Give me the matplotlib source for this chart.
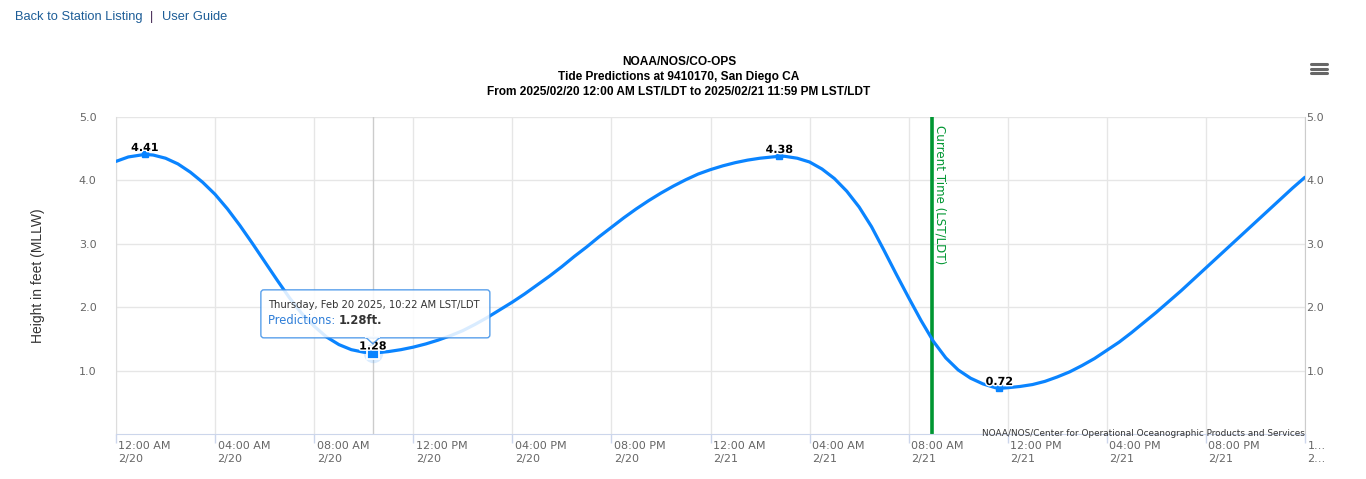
import matplotlib
matplotlib.use("Agg")
import matplotlib.pyplot as plt
import matplotlib.patheffects as pe
import matplotlib.transforms as mtransforms
from matplotlib.patches import FancyBboxPatch, Polygon
from matplotlib.lines import Line2D

# tide predictions, hours since 2025/02/20 00:00, feet above MLLW
hours = [0, 0.5, 1, 1.17, 1.5, 2, 2.5, 3, 3.5, 4, 4.5, 5, 5.5, 6, 6.5, 7, 7.5, 8, 8.5, 9, 9.5,
         10, 10.37, 10.5, 11, 11.5, 12, 12.5, 13, 13.5, 14, 14.5, 15, 15.5, 16, 16.5, 17,
         17.5, 18, 18.5, 19, 19.5, 20, 20.5, 21, 21.5, 22, 22.5, 23, 23.5, 24, 24.5, 25,
         25.5, 26, 26.5, 26.78, 27, 27.5, 28, 28.5, 29, 29.5, 30, 30.5, 31, 31.5, 32, 32.5,
         33, 33.5, 34, 34.5, 35, 35.5, 35.66, 36, 36.5, 37, 37.5, 38, 38.5, 39, 39.5, 40,
         40.5, 41, 41.5, 42, 42.5, 43, 43.5, 44, 44.5, 45, 45.5, 46, 46.5, 47, 47.5, 48]
heights = [4.30, 4.37, 4.40, 4.41, 4.40, 4.35, 4.26, 4.13, 3.97, 3.78, 3.55, 3.29, 3.01,
           2.72, 2.43, 2.15, 1.90, 1.70, 1.53, 1.41, 1.33, 1.29, 1.28, 1.28, 1.30, 1.33,
           1.37, 1.42, 1.48, 1.55, 1.63, 1.73, 1.84, 1.96, 2.08, 2.21, 2.35, 2.49, 2.64,
           2.80, 2.95, 3.11, 3.26, 3.41, 3.55, 3.68, 3.80, 3.91, 4.01, 4.10, 4.17, 4.23,
           4.28, 4.32, 4.35, 4.37, 4.38, 4.38, 4.35, 4.29, 4.18, 4.03, 3.83, 3.58, 3.27,
           2.90, 2.52, 2.15, 1.79, 1.46, 1.20, 1.01, 0.88, 0.79, 0.73, 0.72, 0.73, 0.75,
           0.78, 0.83, 0.90, 0.98, 1.08, 1.19, 1.32, 1.45, 1.60, 1.76, 1.92, 2.09, 2.26,
           2.44, 2.62, 2.80, 2.98, 3.16, 3.34, 3.52, 3.70, 3.88, 4.05]

# highs and lows
extreme_hours = [1.17, 10.37, 26.78, 35.66]
extreme_heights = [4.41, 1.28, 4.38, 0.72]

tick_hours = list(range(0, 49, 4))
tick_labels = ["12:00 AM\n2/20", "04:00 AM\n2/20", "08:00 AM\n2/20", "12:00 PM\n2/20",
               "04:00 PM\n2/20", "08:00 PM\n2/20", "12:00 AM\n2/21", "04:00 AM\n2/21",
               "08:00 AM\n2/21", "12:00 PM\n2/21", "04:00 PM\n2/21", "08:00 PM\n2/21",
               "1\u2026\n2\u2026"]
y_ticks = [1, 2, 3, 4, 5]

current_time = 32.94
hover_idx = 1  # the 10:22 AM low under the tooltip

W, H = 1366, 479
LINE = "#0a84ff"
GREEN = "#009632"
GRID = "#e6e6e6"
LABEL = "#666666"

fig = plt.figure(figsize=(W / 100, H / 100), dpi=100)
ax = fig.add_axes([116 / W, 1 - 434 / H, (1305 - 116) / W, (434 - 117) / H])
ax.set_xlim(0, 48)
ax.set_ylim(0, 5)

ax.grid(True, color=GRID, linewidth=1)
ax.set_axisbelow(True)
ax.spines["top"].set_visible(False)
ax.spines["left"].set_color("#dddddd")
ax.spines["right"].set_color("#cccccc")
ax.spines["bottom"].set_color("#ccd6eb")

ax.set_yticks(y_ticks)
ax.set_yticklabels(["%.1f" % v for v in y_ticks])
ax.tick_params(axis="y", length=0, pad=14, labelsize=8, labelcolor=LABEL)

ax.set_xticks(tick_hours)
ax.set_xticklabels(tick_labels, ha="left", linespacing=1.35)
ax.tick_params(axis="x", length=6.5, width=1, color="#ccd6eb", pad=-1.5,
               labelsize=8, labelcolor=LABEL)
offset = mtransforms.ScaledTranslation(2.5 / 100, 0, fig.dpi_scale_trans)
for lbl in ax.get_xticklabels():
    lbl.set_transform(lbl.get_transform() + offset)

right = ax.twinx()
right.set_ylim(0, 5)
right.set_yticks(y_ticks)
right.set_yticklabels(["%.1f" % v for v in y_ticks])
right.tick_params(axis="y", length=0, pad=1, labelsize=8, labelcolor=LABEL)
for s in right.spines.values():
    s.set_visible(False)

# crosshair at hovered point
ax.axvline(extreme_hours[hover_idx], color="#cccccc", linewidth=1, zorder=1)

# current time
ax.axvline(current_time, color=GREEN, linewidth=2.6, zorder=2)
ax.text(current_time, 4.87, "Current Time (LST/LDT)", rotation=270, color=GREEN,
        fontsize=8.6, ha="left", va="top",
        transform=ax.transData + mtransforms.ScaledTranslation(2 / 100, 0, fig.dpi_scale_trans))

ax.plot(hours, heights, color=LINE, linewidth=2.3, solid_capstyle="round",
        solid_joinstyle="round", zorder=3)
ax.plot(extreme_hours, extreme_heights, linestyle="none", marker="s", markersize=5,
        color=LINE, zorder=4)
ax.plot([extreme_hours[hover_idx]], [extreme_heights[hover_idx]], marker="o", markersize=14,
        color=LINE, alpha=0.15, markeredgewidth=0, zorder=4)
ax.plot([extreme_hours[hover_idx]], [extreme_heights[hover_idx]], marker="s", markersize=8,
        color=LINE, markeredgecolor="white", markeredgewidth=1.3, zorder=5)

for hx, hy in zip(extreme_hours, extreme_heights):
    ax.annotate("%.2f" % hy, (hx, hy), xytext=(0, 1), textcoords="offset points",
                ha="center", va="bottom", fontsize=8, fontweight="bold", color="black",
                path_effects=[pe.withStroke(linewidth=2, foreground="white")], zorder=6)

ax.set_ylabel("Height in feet (MLLW)", fontsize=10, color="#333333",
              family="Liberation Sans", labelpad=0)
ax.yaxis.set_label_coords((45 - 116) / (1305 - 116), 0.5)

# credits
ax.text(1.0, 0.0, "NOAA/NOS/Center for Operational Oceanographic Products and Services",
        transform=ax.transAxes, ha="right", va="center", fontsize=6.4, color="#333333")

# titles
title_lines = ["NOAA/NOS/CO-OPS", "Tide Predictions at 9410170, San Diego CA",
               "From 2025/02/20 12:00 AM LST/LDT to 2025/02/21 11:59 PM LST/LDT"]
for i, t in enumerate(title_lines):
    fig.text(679 / W, 1 - (62 + 15 * i) / H, t, ha="center", va="center", fontsize=8.6,
             fontweight="bold", family="Liberation Sans", color="black")

# page links
fig.text(15 / W, 1 - 17 / H, "Back to Station Listing", ha="left", va="center",
         fontsize=9.3, family="Liberation Sans", color="#1d5d97")
fig.text(150 / W, 1 - 17 / H, "|", ha="left", va="center",
         fontsize=9.3, family="Liberation Sans", color="#3a1c4a")
fig.text(162 / W, 1 - 17 / H, "User Guide", ha="left", va="center",
         fontsize=9.3, family="Liberation Sans", color="#1d5d97")

# menu icon
for yy in [64, 68.5, 73]:
    fig.add_artist(Line2D([1311 / W, 1327 / W], [1 - yy / H, 1 - yy / H],
                          color="#666666", linewidth=2.2, solid_capstyle="round",
                          transform=fig.transFigure))

# tooltip
fig.canvas.draw()
px, py = ax.transData.transform((extreme_hours[hover_idx], extreme_heights[hover_idx]))
box_l, box_r = px - 112, px + 117
box_b, box_t = py + 15, py + 63
ident = mtransforms.IdentityTransform()
box = FancyBboxPatch((box_l, box_b), box_r - box_l, box_t - box_b,
                     boxstyle="round,pad=0,rounding_size=3", transform=ident,
                     facecolor="white", edgecolor="#3b8fe8", linewidth=1, alpha=0.85, zorder=10)
fig.add_artist(box)
fig.add_artist(Polygon([(px - 7, box_b + 0.5), (px + 7, box_b + 0.5), (px, box_b - 6)],
                       closed=True, transform=ident, facecolor="white", edgecolor="#3b8fe8",
                       linewidth=1, alpha=0.85, zorder=10))
fig.add_artist(Line2D([px - 6.5, px + 6.5], [box_b + 0.5, box_b + 0.5], transform=ident,
                      color="white", linewidth=1.5, alpha=0.9, zorder=11))
fig.text((box_l + 7) / W, (box_t - 15) / H, "Thursday, Feb 20 2025, 10:22 AM LST/LDT",
         ha="left", va="center", fontsize=7.2, color="#333333", zorder=12)
t1 = fig.text((box_l + 7) / W, (box_t - 31) / H, "Predictions: ", ha="left", va="center",
              fontsize=8.3, color="#2f7ed8", zorder=12)
ext = t1.get_window_extent(renderer=fig.canvas.get_renderer())
fig.text(ext.x1 / W, (box_t - 31) / H, "%.2fft." % extreme_heights[hover_idx], ha="left",
         va="center", fontsize=8.3, fontweight="bold", color="#333333", zorder=12)

fig.savefig("out.png", dpi=100)
